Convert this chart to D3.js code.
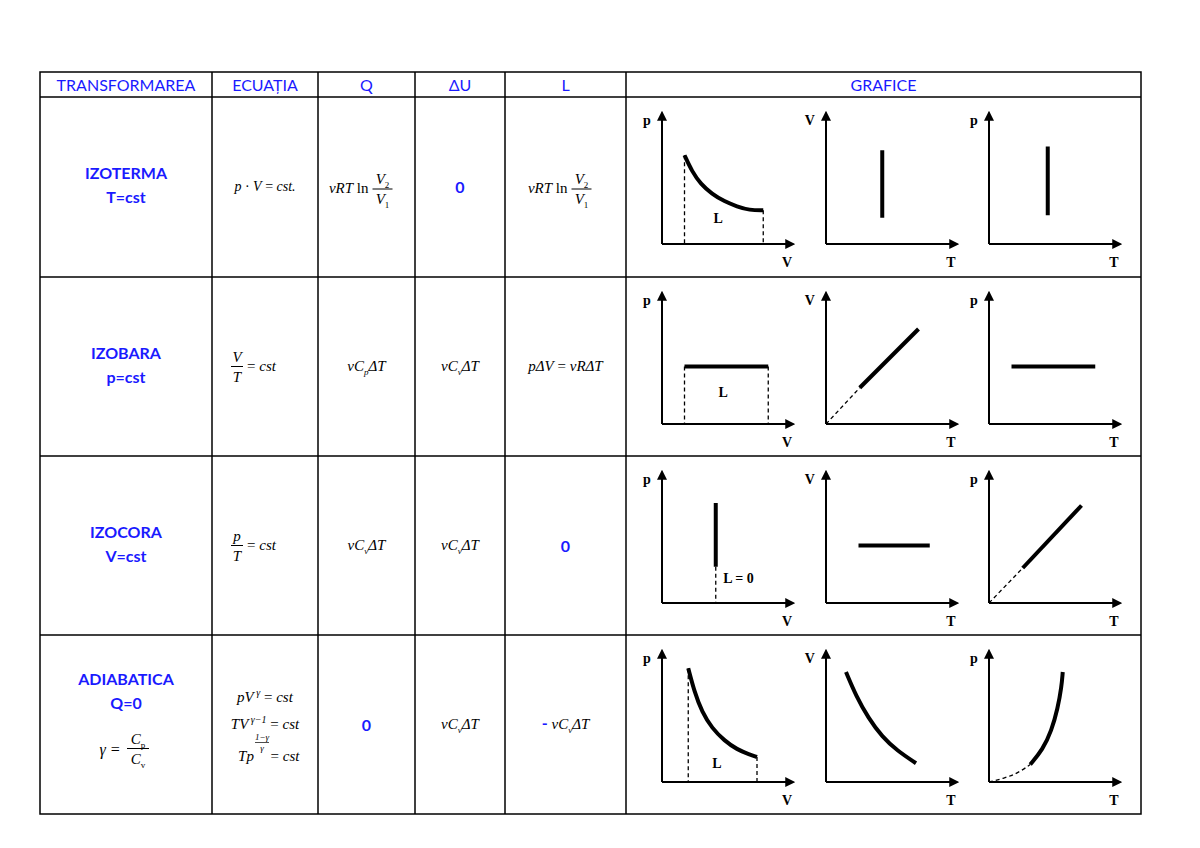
<!DOCTYPE html>
<html><head><meta charset="utf-8">
<script src="https://cdn.jsdelivr.net/npm/d3@7"></script>
<style>
body{margin:0;background:#fff}
.blue{font-family:"Comic Sans MS","Lato","DejaVu Sans",sans-serif;fill:#1a1aff;font-weight:bold}
.m{font-family:"Liberation Serif","DejaVu Serif",serif;font-style:italic;fill:#000}
.r{font-family:"Liberation Serif",serif;fill:#000}
.ax{font-family:"Liberation Serif",serif;font-weight:bold;font-size:14px}
</style></head><body>
<svg id="c" width="1200" height="848"></svg>
<script>
// --------------------------------------------------------------------
// data
var headers = ["TRANSFORMAREA", "ECUAȚIA", "Q", "ΔU", "L", "GRAFICE"];
var colEdges = [40, 212, 318, 415, 505, 626, 1141];
var rowEdges = [72, 97, 277, 456, 635, 814];
var names = ["IZOTERMA", "IZOBARA", "IZOCORA", "ADIABATICA"];
var subs = ["T=cst", "p=cst", "V=cst", "Q=0"];
var axisLabels = [["p", "V"], ["V", "T"], ["p", "T"]];

// curves in plot units (0..10 on each axis)
var izotermaPV = [[1.8,7.1],[2.4,5.8],[3.1,4.8],[4,4.0],[5,3.4],[6,3.0],[7,2.7],[8.1,2.7]];
var izotermaVT = [[4.5,7.5],[4.5,2.1]];
var izotermaPT = [[4.7,7.8],[4.7,2.3]];
var izobaraPV = [[1.8,4.6],[8.5,4.6]];
var izobaraVT = [[2.7,2.9],[7.4,7.6]];
var izobaraVTd = [[0,0],[2.7,2.9]];
var izobaraPT = [[1.8,4.6],[8.5,4.6]];
var izocoraPV = [[4.3,8.0],[4.3,2.9]];
var izocoraPVd = [[4.3,2.9],[4.3,0]];
var izocoraVT = [[2.6,4.6],[8.3,4.6]];
var izocoraPT = [[2.7,2.8],[7.4,7.8]];
var izocoraPTd = [[0,0],[2.7,2.8]];
var adiabPV = [[2.1,9.1],[2.6,7.2],[3.2,5.6],[4,4.3],[5,3.3],[6,2.6],[7,2.2],[7.6,2.0]];
var adiabVT = [[1.6,8.8],[2.4,6.9],[3.4,5.1],[4.5,3.6],[5.7,2.5],[7.2,1.5]];
var adiabPT = [[3.3,1.4],[4.3,2.6],[5.0,4.1],[5.5,5.9],[5.8,7.6],[5.9,8.8]];
var adiabPTd = [[0,0],[1.2,0.3],[2.3,0.7],[3.3,1.4]];

var plots = [
  [{s:[izotermaPV], d:[], v:[1.8,8.1], L:[4.5,1.7]}, {s:[izotermaVT], d:[]}, {s:[izotermaPT], d:[]}],
  [{s:[izobaraPV], d:[], v:[1.8,8.5], L:[4.9,2.2]}, {s:[izobaraVT], d:[izobaraVTd]}, {s:[izobaraPT], d:[]}],
  [{s:[izocoraPV], d:[izocoraPVd], L0:[4.9,1.6]}, {s:[izocoraVT], d:[]}, {s:[izocoraPT], d:[izocoraPTd]}],
  [{s:[adiabPV], d:[], v:[2.1,7.6], L:[4.4,1.1]}, {s:[adiabVT], d:[]}, {s:[adiabPT], d:[adiabPTd]}]
];
var plotX = [662, 826, 989];

// --------------------------------------------------------------------
var svg = d3.select("#c");
var g = svg.append("g");

// grid
g.append("rect").attr("x", 40).attr("y", 72).attr("width", 1101).attr("height", 742)
 .attr("fill", "none").attr("stroke", "#000").attr("stroke-width", 1.5);
colEdges.slice(1, -1).forEach(function(x) {
  g.append("line").attr("x1", x).attr("x2", x).attr("y1", 72).attr("y2", 814).attr("stroke", "#000").attr("stroke-width", 1.5);
});
rowEdges.slice(1, -1).forEach(function(y) {
  g.append("line").attr("x1", 40).attr("x2", 1141).attr("y1", y).attr("y2", y).attr("stroke", "#000").attr("stroke-width", 1.5);
});

function cx(i) { return (colEdges[i] + colEdges[i + 1]) / 2; }
function cy(i) { return (rowEdges[i] + rowEdges[i + 1]) / 2; }

headers.forEach(function(h, i) {
  g.append("text").attr("class", "blue").attr("x", cx(i)).attr("y", 91)
   .attr("text-anchor", "middle").style("font-size", "16px").style("font-weight", "normal").text(h);
});

names.forEach(function(n, r) {
  var y0 = cy(r + 1);
  var off = r == 3 ? -40 : -8;
  g.append("text").attr("class", "blue").attr("x", cx(0)).attr("y", y0 + off)
   .attr("text-anchor", "middle").style("font-size", "16px").text(n);
  g.append("text").attr("class", "blue").attr("x", cx(0)).attr("y", y0 + off + 24)
   .attr("text-anchor", "middle").style("font-size", "16px").text(subs[r]);
});

// math helpers
function txt(x, y, parts, size, anchor) {
  var t = g.append("text").attr("x", x).attr("y", y).attr("text-anchor", anchor || "middle").style("font-size", size + "px");
  parts.forEach(function(p) {
    var s = t.append("tspan").text(p[0]);
    s.attr("class", p[1] || "m");
    if (p[2]) s.attr("dy", p[2]);
    if (p[3]) s.style("font-size", p[3] + "px");
  });
  return t;
}
function frac(x, y, num, den, w, size) {
  txt(x, y - 5, num, size);
  g.append("line").attr("x1", x - w / 2).attr("x2", x + w / 2).attr("y1", y).attr("y2", y).attr("stroke", "#000");
  txt(x, y + 15, den, size);
}
var sub2 = function(a, b) { return [[a], [b, "r", 4, 9]]; };

function lnFrac(col, row) {
  var x = cx(col), y = cy(row) + 2;
  txt(x + 2, y + 4, [["vRT"], [" ln", "r"]], 15, "end");
  frac(x + 16, y, sub2("V", "2"), sub2("V", "1"), 20, 15);
}

var blue0 = function(col, row, dy) {
  g.append("text").attr("class", "blue").attr("x", cx(col)).attr("y", cy(row) + (dy || 6))
   .attr("text-anchor", "middle").style("font-size", "16px").text("0");
};
function vc(col, row, s, prefix) {
  var t = txt(cx(col), cy(row) + 4, [["vC"], [s, "m", 4, 9], ["ΔT", "m", -4]], 15);
  if (prefix) t.insert("tspan", ":first-child").attr("class", "blue").style("font-size", "16px").text("- ");
}

// row 1
txt(cx(1), cy(1) + 4, [["p"], [" · ", "r"], ["V"], [" = ", "r"], ["cst."]], 14);
lnFrac(2, 1); blue0(3, 1); lnFrac(4, 1);
// row 2
frac(cx(1) - 28, cy(2), [["V"]], [["T"]], 12, 15);
txt(cx(1) - 18, cy(2) + 4, [["= ", "r"], ["cst"]], 15, "start");
vc(2, 2, "p"); vc(3, 2, "v");
txt(cx(4), cy(2) + 4, [["pΔV"], [" = ", "r"], ["vRΔT"]], 15);
// row 3
frac(cx(1) - 28, cy(3), [["p"]], [["T"]], 12, 15);
txt(cx(1) - 18, cy(3) + 4, [["= ", "r"], ["cst"]], 15, "start");
vc(2, 3, "v"); vc(3, 3, "v"); blue0(4, 3);
// row 4
var y4 = cy(4);
txt(cx(1), y4 - 23, [["pV"], [" γ", "m", -6, 10], [" = ", "r", 6], ["cst"]], 15);
txt(cx(1), y4 + 4, [["TV"], [" γ−1", "m", -6, 10], [" = ", "r", 6], ["cst"]], 15);
txt(cx(1) - 19, y4 + 36, [["Tp"]], 15);
txt(cx(1) - 3, y4 + 15, [["1−γ"]], 9);
g.append("line").attr("x1", cx(1) - 10).attr("x2", cx(1) + 4).attr("y1", y4 + 18).attr("y2", y4 + 18).attr("stroke", "#000").attr("stroke-width", 0.7);
txt(cx(1) - 3, y4 + 26, [["γ"]], 9);
txt(cx(1) + 20, y4 + 36, [["= ", "r"], ["cst"]], 15);
blue0(2, 4, 6); vc(3, 4, "v"); vc(4, 4, "v", true);
// gamma = Cp/Cv
txt(cx(0) - 16, y4 + 30, [["γ = ", "m"]], 16);
frac(cx(0) + 12, y4 + 24, sub2("C", "p"), sub2("C", "v"), 22, 15);

// --------------------------------------------------------------------
// graphs
svg.append("defs").append("marker").attr("id", "arr").attr("viewBox", "0 0 10 10")
   .attr("refX", 8).attr("refY", 5).attr("markerWidth", 10).attr("markerHeight", 10)
   .attr("markerUnits", "userSpaceOnUse").attr("orient", "auto")
   .append("path").attr("d", "M0,0L10,5L0,10z");

plots.forEach(function(row, r) {
  var oy = rowEdges[r + 1] + 147;
  row.forEach(function(p, k) {
    var ox = plotX[k];
    var x = d3.scaleLinear().domain([0, 10]).range([ox, ox + 125]);
    var y = d3.scaleLinear().domain([0, 10]).range([oy, oy - 125]);
    var pg = g.append("g");
    pg.append("line").attr("x1", x(0)).attr("y1", y(0)).attr("x2", x(0)).attr("y2", y(10.5))
      .attr("stroke", "#000").attr("stroke-width", 2).attr("marker-end", "url(#arr)");
    pg.append("line").attr("x1", x(0)).attr("y1", y(0)).attr("x2", x(10.5)).attr("y2", y(0))
      .attr("stroke", "#000").attr("stroke-width", 2).attr("marker-end", "url(#arr)");
    pg.append("text").attr("class", "ax").attr("x", x(-0.9)).attr("y", y(9.5)).attr("text-anchor", "end").text(axisLabels[k][0]);
    pg.append("text").attr("class", "ax").attr("x", x(10)).attr("y", y(-1.8)).attr("text-anchor", "middle").text(axisLabels[k][1]);
    var line = d3.line().x(function(d) { return x(d[0]); }).y(function(d) { return y(d[1]); })
                 .curve(d3.curveBasis);
    p.s.forEach(function(pts) {
      pg.append("path").attr("d", line(pts)).attr("fill", "none").attr("stroke", "#000").attr("stroke-width", 4);
    });
    p.d.forEach(function(pts) {
      pg.append("path").attr("d", line(pts)).attr("fill", "none").attr("stroke", "#000")
        .attr("stroke-width", 1.3).attr("stroke-dasharray", "4,3");
    });
    if (p.v) {
      var s = p.s[0];
      [s[0], s[s.length - 1]].forEach(function(d) {
        pg.append("line").attr("x1", x(d[0])).attr("x2", x(d[0])).attr("y1", y(d[1])).attr("y2", y(0))
          .attr("stroke", "#000").attr("stroke-width", 1.3).attr("stroke-dasharray", "4,3");
      });
    }
    if (p.L) pg.append("text").attr("class", "ax").attr("x", x(p.L[0])).attr("y", y(p.L[1])).attr("text-anchor", "middle").text("L");
    if (p.L0) pg.append("text").attr("class", "ax").attr("x", x(p.L0[0])).attr("y", y(p.L0[1])).attr("text-anchor", "start").text("L = 0");
  });
});
</script></body></html>
